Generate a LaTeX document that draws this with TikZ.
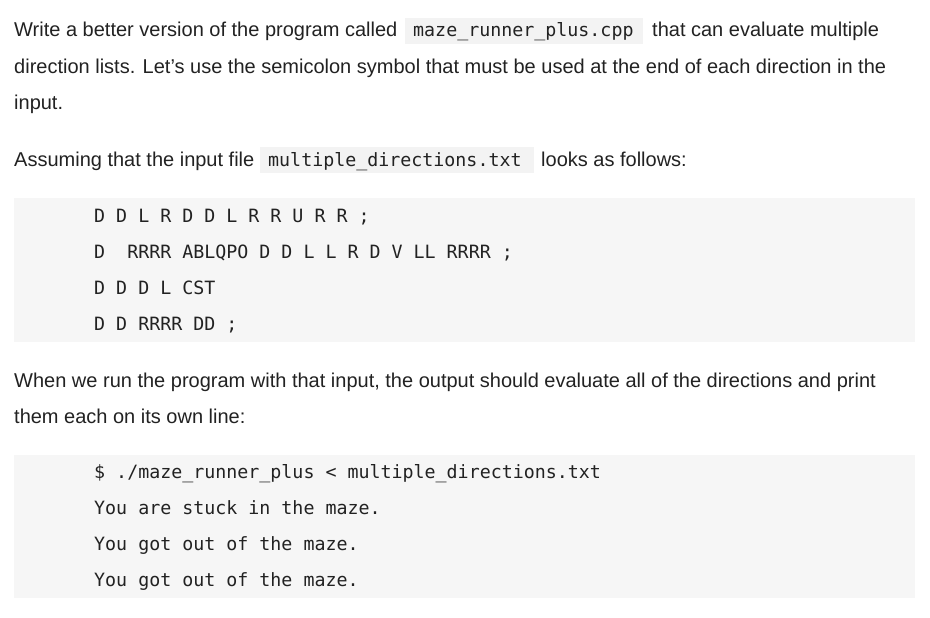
\documentclass[tikz,border=0pt]{standalone}
\usepackage{fontspec}
\setmainfont{Liberation Sans}
\setmonofont{DejaVu Sans Mono}
\definecolor{txt}{HTML}{222222}
\definecolor{codebg}{HTML}{F6F6F6}
\definecolor{inlbg}{HTML}{F3F3F3}
\begin{document}
\begin{tikzpicture}[x=1pt,y=-1pt,
  body/.style={anchor=base west,inner sep=0pt,text=txt,font=\fontsize{20}{20}\selectfont},
  code/.style={anchor=base west,inner sep=0pt,text=txt,font=\fontsize{18.3}{18}\ttfamily},
  inl/.style={fill=inlbg}]
\useasboundingbox (0,0) rectangle (930,618);
\fill[white] (0,0) rectangle (930,618);
% paragraph 1
\fill[inl] (405,18) rectangle (643,44);
\fill[inl] (260,147) rectangle (534,173);
\node[body] (p1a) at (14,37) {Write a better version of the program called};
\node[code] (c1) at (413,37) {maze\_runner\_plus.cpp};
\node[body] (p1b) at (652,37) {that can evaluate multiple};
\node[body] (p2) at (14,74) {direction lists. Let’s use the semicolon symbol that must be used at the end of each direction in the};
\node[body] (p3) at (14,110) {input.};
\node[body] (p4a) at (14,166) {Assuming that the input file};
\node[code] (c2) at (268,166) {multiple\_directions.txt};
\node[body] (p4b) at (541,166) {looks as follows:};
% code block 1
\fill[codebg] (14,198) rectangle (915,342);
\node[code] (l1) at (94,222) {D D L R D D L R R U R R ;};
\node[code] (l2) at (94,258) {D\ \ RRRR ABLQPO D D L L R D V LL RRRR ;};
\node[code] (l3) at (94,294) {D D D L CST};
\node[code] (l4) at (94,330) {D D RRRR DD ;};
% paragraph 2
\node[body] (p5) at (14,387) {When we run the program with that input, the output should evaluate all of the directions and print};
\node[body] (p6) at (14,423) {them each on its own line:};
% code block 2
\fill[codebg] (14,455) rectangle (915,598);
\node[code] (o1) at (94,478) {\$ ./maze\_runner\_plus < multiple\_directions.txt};
\node[code] (o2) at (94,514) {You are stuck in the maze.};
\node[code] (o3) at (94,550) {You got out of the maze.};
\node[code] (o4) at (94,586) {You got out of the maze.};
\end{tikzpicture}
\end{document}
